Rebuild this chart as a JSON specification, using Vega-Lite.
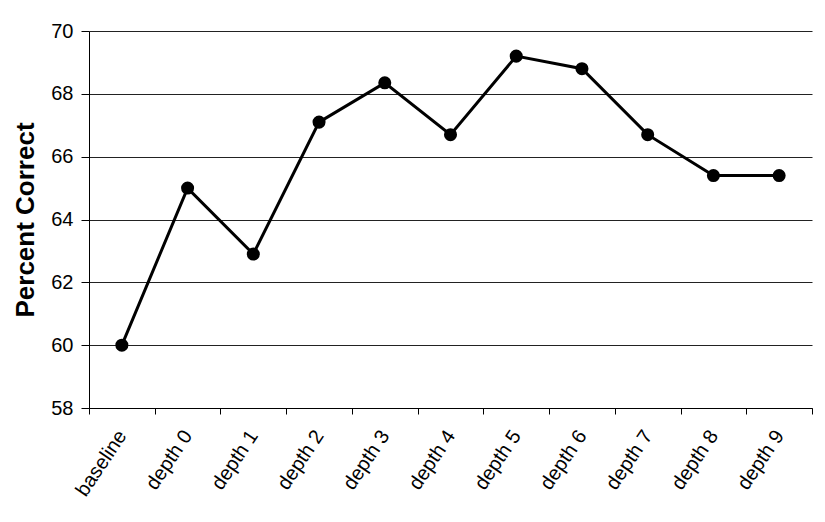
{
  "$schema": "https://vega.github.io/schema/vega-lite/v6.json",
  "autosize": "none",
  "width": 723,
  "height": 377,
  "padding": {"left": 89, "top": 31, "right": 13, "bottom": 114},
  "background": "white",
  "config": {
    "font": "Liberation Sans",
    "view": {"stroke": null}
  },
  "data": {
    "values": [
      {"condition": "baseline", "pct": 60.0},
      {"condition": "depth 0", "pct": 65.0},
      {"condition": "depth 1", "pct": 62.9},
      {"condition": "depth 2", "pct": 67.1},
      {"condition": "depth 3", "pct": 68.35},
      {"condition": "depth 4", "pct": 66.7},
      {"condition": "depth 5", "pct": 69.2},
      {"condition": "depth 6", "pct": 68.8},
      {"condition": "depth 7", "pct": 66.7},
      {"condition": "depth 8", "pct": 65.4},
      {"condition": "depth 9", "pct": 65.4}
    ]
  },
  "encoding": {
    "x": {
      "field": "condition",
      "type": "nominal",
      "sort": null,
      "scale": {"type": "band", "paddingInner": 0, "paddingOuter": 0},
      "axis": {
        "title": null,
        "tickBand": "extent",
        "grid": false,
        "domainColor": "black",
        "tickColor": "black",
        "tickSize": 6,
        "labelAngle": -56,
        "labelFontSize": 20,
        "labelColor": "black",
        "labelPadding": 18,
        "labelLimit": 200
      }
    },
    "y": {
      "field": "pct",
      "type": "quantitative",
      "scale": {"domain": [58, 70], "nice": false, "zero": false},
      "axis": {
        "title": "Percent Correct",
        "titleFontSize": 26,
        "titleFontWeight": "bold",
        "titleColor": "black",
        "titlePadding": 12,
        "values": [58, 60, 62, 64, 66, 68, 70],
        "grid": true,
        "gridColor": "#222",
        "gridOpacity": 1,
        "domainColor": "black",
        "tickColor": "black",
        "tickSize": 8,
        "labelFontSize": 20,
        "labelColor": "black",
        "labelPadding": 8
      }
    }
  },
  "layer": [
    {"mark": {"type": "line", "color": "black", "strokeWidth": 3}},
    {"mark": {"type": "point", "filled": true, "color": "black", "opacity": 1, "size": 170}}
  ]
}
